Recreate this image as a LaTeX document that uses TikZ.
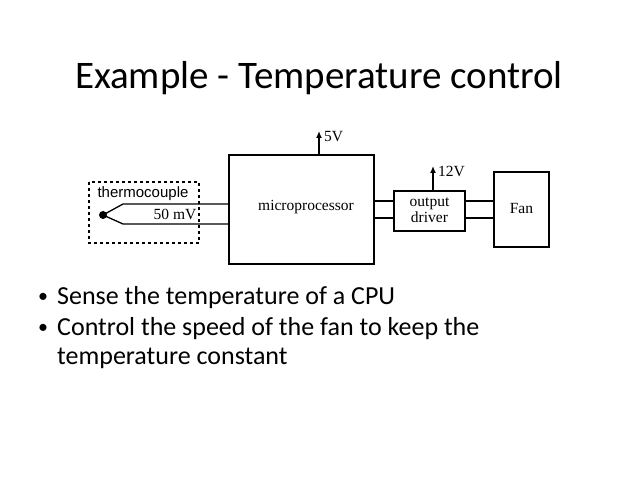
\documentclass[tikz,border=0pt]{standalone}
\usepackage{fontspec}
\setmainfont{Carlito}
\newfontfamily\serifd{Liberation Serif}
\newfontfamily\sansd{Liberation Sans}
\usetikzlibrary{arrows.meta}
\begin{document}
\begin{tikzpicture}[x=1pt,y=-1pt,
  blk/.style={draw,line width=1.3pt},
  wire/.style={line width=1.3pt},
  supply/.style={line width=1.3pt,-{Latex[length=7pt,width=6pt]}},
  lbl/.style={font=\serifd\fontsize{15.5}{17}\selectfont,inner sep=0pt}]
\useasboundingbox (0,0) rectangle (638,478);
\node[font=\fontsize{39}{44}\selectfont] (title) at (319,78) {Example - Temperature control};
% boxes
\draw[dashed,line width=1.1pt] (89,182) rectangle (199,243);
\node[blk,minimum width=145pt,minimum height=109pt,inner sep=0pt] (mp) at (301.5,209.5) {};
\node[lbl] (mpl) at (306,207) {microprocessor};
\node[blk,minimum width=71pt,minimum height=40pt,inner sep=0pt] (od) at (429.5,211) {};
\node[lbl,align=center,font=\serifd\fontsize{15.5}{15.5}\selectfont] (odl) at (429.5,210) {output\\driver};
\node[blk,minimum width=55pt,minimum height=75pt,inner sep=0pt] (fan) at (521.5,209.5) {};
\node[lbl] (fanl) at (521.5,209) {Fan};
\node[font=\sansd\fontsize{15}{17}\selectfont,inner sep=0pt] (tc) at (143,194) {thermocouple};
\node[lbl] (mv) at (175,214) {50 mV};
% thermocouple
\fill (103,215) circle (4pt);
\coordinate (dot) at (103,215);
\draw[wire] (dot) -- (123,204) -- (mp.west |- 0,204);
\draw[wire] (dot) -- (123,224) -- (mp.west |- 0,224);
% links
\draw[wire] (mp.east |- 0,201) -- (od.west |- 0,201);
\draw[wire] (mp.east |- 0,218) -- (od.west |- 0,218);
\draw[wire] (od.east |- 0,201) -- (fan.west |- 0,201);
\draw[wire] (od.east |- 0,218) -- (fan.west |- 0,218);
% supplies
\coordinate (v5) at (319,131);
\coordinate (v12) at (433,166);
\draw[supply] (mp.north -| v5) -- (v5);
\draw[supply] (od.north -| v12) -- (v12);
\node[lbl,anchor=west] (l5) at (324,137) {5V};
\node[lbl,anchor=west] (l12) at (438,171) {12V};
% bullets
\begin{scope}[every node/.style={anchor=west,inner sep=0pt,font=\fontsize{26}{30}\selectfont}]
\node[font=\fontsize{20}{24}\selectfont] (b1) at (38,298) {•};
\node (t1) at (57,298) {Sense the temperature of a CPU};
\node[font=\fontsize{20}{24}\selectfont] (b2) at (38,329) {•};
\node (t2) at (57,329) {Control the speed of the fan to keep the};
\node (t3) at (57,358) {temperature constant};
\end{scope}
\end{tikzpicture}
\end{document}
